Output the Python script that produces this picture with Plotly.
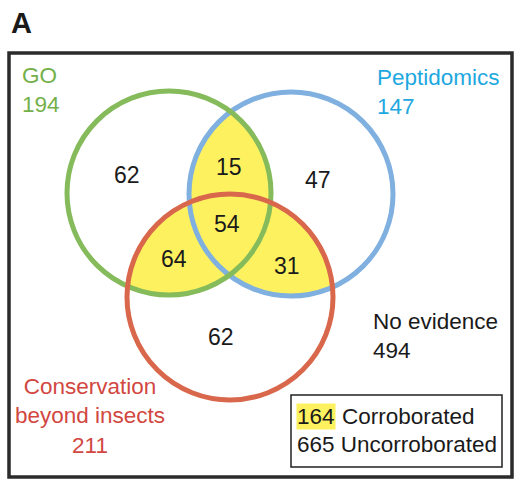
import numpy as np
import plotly.graph_objects as go

# ---- data ----
set_names = ["GO", "Peptidomics", "Conservation<br>beyond insects"]
set_totals = [194, 147, 211]
region_names = ["GO only", "GO & Pep", "Pep only", "All three", "GO & Cons", "Pep & Cons", "Cons only"]
region_counts = [62, 15, 47, 54, 64, 31, 62]
no_evidence = 494
corroborated = 164
uncorroborated = 665

# ---- styling / layout ----
W, H = 531, 487
FONT = "Liberation Sans, Arial, sans-serif"
FS = 22.5
YELLOW = "#fdf160"
set_line_colors = ["#86bb5c", "#7fb0df", "#d9674c"]
set_text_colors = ["#74b04a", "#1ea8e0", "#d2473f"]
centers = [(169, 193), (291, 194), (230, 297)]
radii = [102, 102, 103]

fig = go.Figure()

def lens(c1, r1, c2, r2, n=80):
    c1 = np.array(c1, float); c2 = np.array(c2, float)
    d = np.linalg.norm(c2 - c1)
    th = np.arctan2(c2[1] - c1[1], c2[0] - c1[0])
    a1 = np.arccos((d**2 + r1**2 - r2**2) / (2 * d * r1))
    a2 = np.arccos((d**2 + r2**2 - r1**2) / (2 * d * r2))
    t1 = np.linspace(th - a1, th + a1, n)
    t2 = np.linspace(th + np.pi - a2, th + np.pi + a2, n)
    xs = np.concatenate([c1[0] + r1 * np.cos(t1), c2[0] + r2 * np.cos(t2)])
    ys = np.concatenate([c1[1] + r1 * np.sin(t1), c2[1] + r2 * np.sin(t2)])
    return xs, ys

for i, j in [(0, 1), (0, 2), (1, 2)]:
    xs, ys = lens(centers[i], radii[i], centers[j], radii[j])
    fig.add_trace(go.Scatter(x=xs, y=ys, fill="toself", fillcolor=YELLOW,
                             mode="lines", line=dict(width=0, color=YELLOW),
                             hoverinfo="skip", showlegend=False))

shapes = []
# outer frame
shapes.append(dict(type="rect", x0=9, y0=53, x1=512, y1=477,
                   line=dict(color="#2b2b2b", width=3.5)))
for k in [1, 0, 2]:
    cx, cy = centers[k]; r = radii[k]
    shapes.append(dict(type="circle", x0=cx - r, x1=cx + r, y0=cy - r, y1=cy + r,
                       line=dict(color=set_line_colors[k], width=5)))
# legend box
shapes.append(dict(type="rect", x0=291, y0=395, x1=502, y1=467,
                   line=dict(color="#222222", width=1.5)))

ann = []
def txt(x, y, s, color="#1a1a1a", size=FS, xa="center", **kw):
    ann.append(dict(x=x, y=y, text=s, showarrow=False, xanchor=xa, yanchor="middle",
                    font=dict(family=FONT, size=size, color=color), **kw))

txt(9, 23, "<b>A</b>", size=29, xa="left")
# set labels
txt(20, 90, f"{set_names[0]}<br>{set_totals[0]}", color=set_text_colors[0], xa="left", align="left")
txt(375, 92, f"{set_names[1]}<br>{set_totals[1]}", color=set_text_colors[1], xa="left", align="left")
txt(90, 416, f"{set_names[2]}<br>{set_totals[2]}", color=set_text_colors[2], align="center")
# region counts
region_pos = [(127, 175), (229, 167), (318, 180), (227, 224), (174, 259), (287, 266), (221, 337)]
for (x, y), v in zip(region_pos, region_counts):
    txt(x, y, str(v), size=23)
txt(371, 336, f"No evidence<br>{no_evidence}", xa="left", align="left")
# legend text
ann.append(dict(x=296, y=416, text=str(corroborated), showarrow=False, xanchor="left",
                yanchor="middle", bgcolor=YELLOW, borderpad=0,
                font=dict(family=FONT, size=FS, color="#1a1a1a")))
txt(340, 416, "Corroborated", xa="left")
txt(295, 444, f"{uncorroborated} Uncorroborated", xa="left")

fig.update_layout(
    width=W, height=H, margin=dict(l=0, r=0, t=0, b=0),
    paper_bgcolor="white", plot_bgcolor="white",
    xaxis=dict(range=[0, W], visible=False, fixedrange=True),
    yaxis=dict(range=[H, 0], visible=False, fixedrange=True),
    shapes=shapes, annotations=ann, showlegend=False,
)
fig.write_html("out.html", config={"displayModeBar": False},
               post_script="document.body.style.margin='0';document.body.style.overflow='hidden';")
